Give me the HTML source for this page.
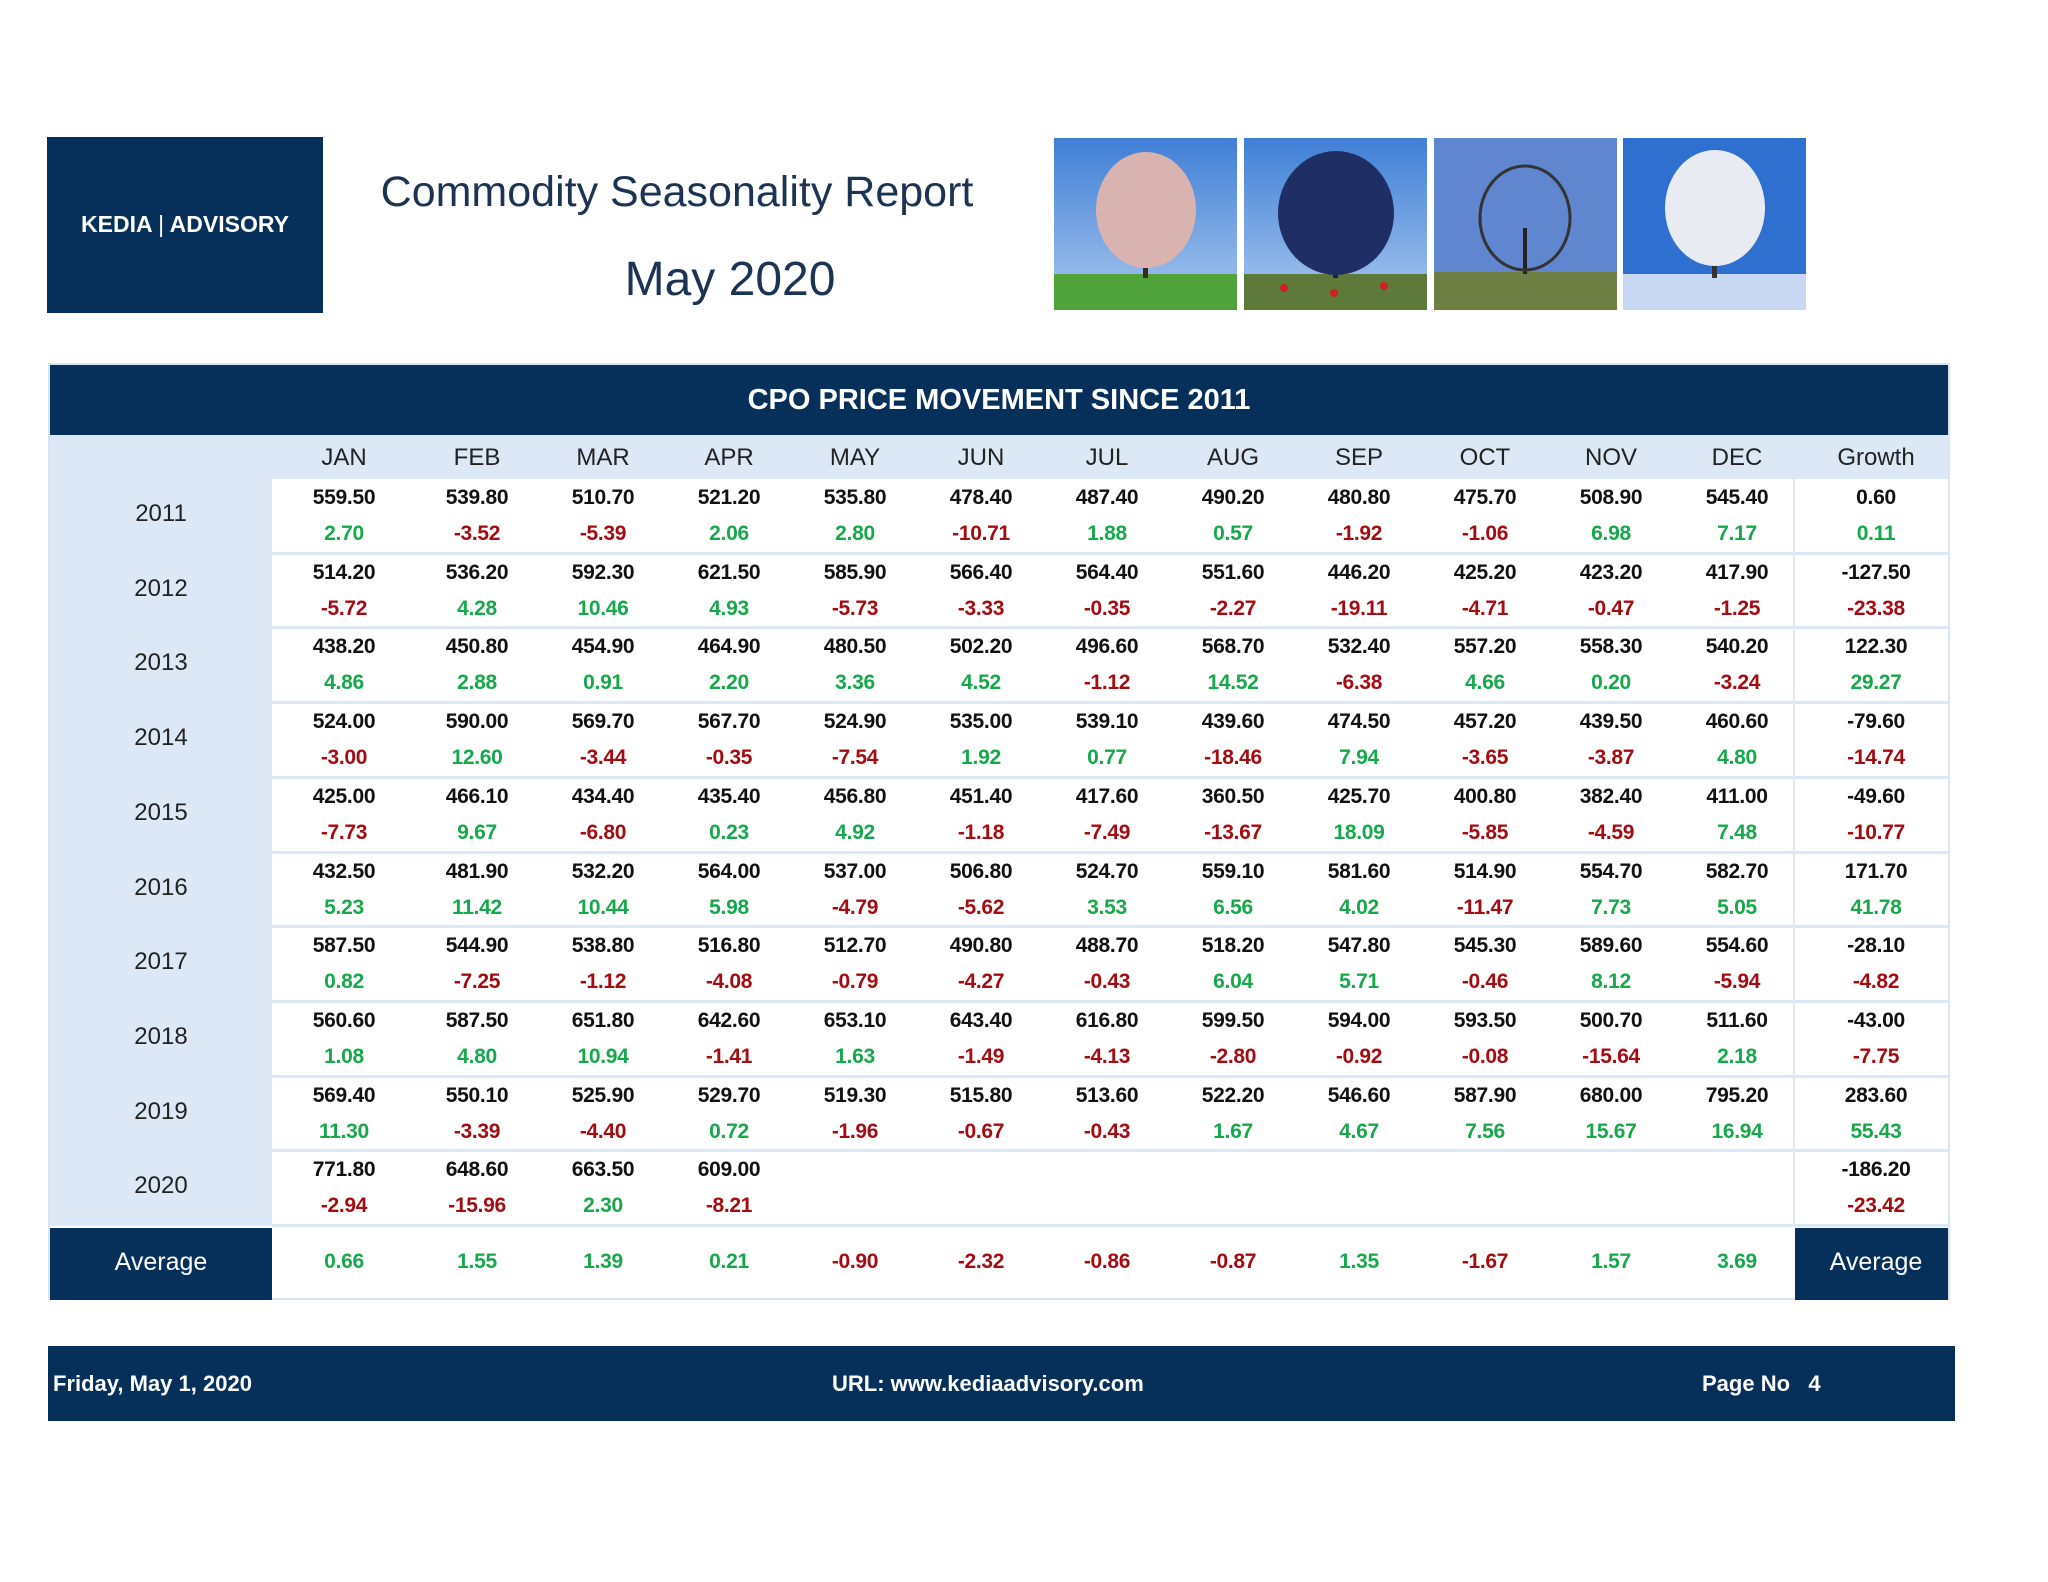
<!DOCTYPE html>
<html><head><meta charset="utf-8">
<style>
html,body{margin:0;padding:0;background:#fff;}
body{width:2048px;height:1582px;position:relative;overflow:hidden;font-family:"Liberation Sans",sans-serif;}
.abs{position:absolute;}
.navy{background:#06305a;}
.c{position:absolute;text-align:center;transform:translateX(-50%);white-space:nowrap;}
.num{font-weight:bold;font-size:21px;letter-spacing:-0.3px;}
.g{color:#17a84b;}
.r{color:#a30d12;}
.k{color:#111;}
</style></head>
<body>
<div class="abs navy" style="left:47px;top:137px;width:276px;height:176px;">
  <div class="abs" style="left:0;width:276px;top:74px;text-align:center;color:#fff;font-weight:bold;font-size:23px;">KEDIA <span style="font-weight:normal;">|</span> ADVISORY</div>
</div>
<div class="c" style="left:677px;top:168px;font-size:43px;color:#1c3354;">Commodity Seasonality Report</div>
<div class="c" style="left:730px;top:252px;font-size:48px;color:#1c3354;">May 2020</div>

<svg class="abs" style="left:1054px;top:138px;" width="752" height="172">
  <defs>
    <linearGradient id="sky" x1="0" y1="0" x2="0" y2="1"><stop offset="0" stop-color="#3f7fd6"/><stop offset="1" stop-color="#a9c8ee"/></linearGradient>
  </defs>
  <g>
    <rect x="0" y="0" width="183" height="172" fill="url(#sky)"/>
    <rect x="0" y="136" width="183" height="36" fill="#4fa33a"/>
    <rect x="89" y="95" width="5" height="45" fill="#3a2a20"/>
    <ellipse cx="92" cy="72" rx="50" ry="58" fill="#d9b3b0"/>
  </g>
  <g transform="translate(190,0)">
    <rect x="0" y="0" width="183" height="172" fill="url(#sky)"/>
    <rect x="0" y="136" width="183" height="36" fill="#5d7a3a"/>
    <circle cx="40" cy="150" r="4" fill="#d02020"/><circle cx="90" cy="155" r="4" fill="#d02020"/><circle cx="140" cy="148" r="4" fill="#d02020"/>
    <rect x="89" y="100" width="5" height="40" fill="#1a2340"/>
    <ellipse cx="92" cy="75" rx="58" ry="62" fill="#1f2f66"/>
  </g>
  <g transform="translate(380,0)">
    <rect x="0" y="0" width="183" height="172" fill="#5f86cf"/>
    <rect x="0" y="134" width="183" height="38" fill="#6e7f44"/>
    <rect x="89" y="90" width="4" height="46" fill="#222"/>
    <ellipse cx="91" cy="80" rx="45" ry="52" fill="none" stroke="#333" stroke-width="3"/>
  </g>
  <g transform="translate(569,0)">
    <rect x="0" y="0" width="183" height="172" fill="#2f6fd0"/>
    <rect x="0" y="136" width="183" height="36" fill="#c8d8f2"/>
    <rect x="89" y="95" width="5" height="45" fill="#333"/>
    <ellipse cx="92" cy="70" rx="50" ry="58" fill="#e8ecf2"/>
  </g>
</svg>

<div id="table" class="abs" style="left:48px;top:363px;width:1902px;height:937px;border:2px solid #d6e4f3;box-sizing:border-box;background:#fff;"></div>

<div class="abs navy" style="left:48px;top:1346px;width:1907px;height:75px;">
  <div class="abs" style="left:5px;top:25px;color:#fff;font-weight:bold;font-size:22px;">Friday, May 1, 2020</div>
  <div class="abs" style="left:784px;top:25px;color:#fff;font-weight:bold;font-size:22px;">URL: www.kediaadvisory.com</div>
  <div class="abs" style="left:1654px;top:25px;color:#fff;font-weight:bold;font-size:22px;white-space:pre;">Page No   4</div>
</div>

<script>
const months = ["JAN","FEB","MAR","APR","MAY","JUN","JUL","AUG","SEP","OCT","NOV","DEC"];
const years = ["2011","2012","2013","2014","2015","2016","2017","2018","2019","2020"];
const prices = [
 ["559.50","539.80","510.70","521.20","535.80","478.40","487.40","490.20","480.80","475.70","508.90","545.40"],
 ["514.20","536.20","592.30","621.50","585.90","566.40","564.40","551.60","446.20","425.20","423.20","417.90"],
 ["438.20","450.80","454.90","464.90","480.50","502.20","496.60","568.70","532.40","557.20","558.30","540.20"],
 ["524.00","590.00","569.70","567.70","524.90","535.00","539.10","439.60","474.50","457.20","439.50","460.60"],
 ["425.00","466.10","434.40","435.40","456.80","451.40","417.60","360.50","425.70","400.80","382.40","411.00"],
 ["432.50","481.90","532.20","564.00","537.00","506.80","524.70","559.10","581.60","514.90","554.70","582.70"],
 ["587.50","544.90","538.80","516.80","512.70","490.80","488.70","518.20","547.80","545.30","589.60","554.60"],
 ["560.60","587.50","651.80","642.60","653.10","643.40","616.80","599.50","594.00","593.50","500.70","511.60"],
 ["569.40","550.10","525.90","529.70","519.30","515.80","513.60","522.20","546.60","587.90","680.00","795.20"],
 ["771.80","648.60","663.50","609.00"]
];
const changes = [
 ["2.70","-3.52","-5.39","2.06","2.80","-10.71","1.88","0.57","-1.92","-1.06","6.98","7.17"],
 ["-5.72","4.28","10.46","4.93","-5.73","-3.33","-0.35","-2.27","-19.11","-4.71","-0.47","-1.25"],
 ["4.86","2.88","0.91","2.20","3.36","4.52","-1.12","14.52","-6.38","4.66","0.20","-3.24"],
 ["-3.00","12.60","-3.44","-0.35","-7.54","1.92","0.77","-18.46","7.94","-3.65","-3.87","4.80"],
 ["-7.73","9.67","-6.80","0.23","4.92","-1.18","-7.49","-13.67","18.09","-5.85","-4.59","7.48"],
 ["5.23","11.42","10.44","5.98","-4.79","-5.62","3.53","6.56","4.02","-11.47","7.73","5.05"],
 ["0.82","-7.25","-1.12","-4.08","-0.79","-4.27","-0.43","6.04","5.71","-0.46","8.12","-5.94"],
 ["1.08","4.80","10.94","-1.41","1.63","-1.49","-4.13","-2.80","-0.92","-0.08","-15.64","2.18"],
 ["11.30","-3.39","-4.40","0.72","-1.96","-0.67","-0.43","1.67","4.67","7.56","15.67","16.94"],
 ["-2.94","-15.96","2.30","-8.21"]
];
const growthValues = ["0.60","-127.50","122.30","-79.60","-49.60","171.70","-28.10","-43.00","283.60","-186.20"];
const growthPct = ["0.11","-23.38","29.27","-14.74","-10.77","41.78","-4.82","-7.75","55.43","-23.42"];
const averages = ["0.66","1.55","1.39","0.21","-0.90","-2.32","-0.86","-0.87","1.35","-1.67","1.57","3.69"];

const T = document.getElementById('table');
function colX(i){ return i===0 ? 294 : 427 + (i-1)*126; }
const growthX = 1826;
const rowTop0 = 114, rowH = 74.7;
function rowY(r){ return rowTop0 + r*rowH; }
function box(x,y,w,h,bg,name){
  const d=document.createElement('div');
  d.className='abs';
  d.style.cssText=`left:${x}px;top:${y}px;width:${w}px;height:${h}px;background:${bg};`;
  
  
  T.appendChild(d); return d;
}
function txt(x,y,s,cls,name,extra){
  const d=document.createElement('div');
  d.className='c '+cls;
  d.style.cssText=`left:${x}px;top:${y}px;`+(extra||'');
  d.textContent=s;
  
  
  T.appendChild(d); return d;
}
function sc(v){ return parseFloat(v)<0?'r':'g'; }

box(0,0,1898,70,'#06305a','table-title-bar');
txt(949,19,'CPO PRICE MOVEMENT SINCE 2011','','table-title','color:#fff;font-weight:bold;font-size:29px;');
box(0,70,1898,44,'#dce8f5','month-header-row');
box(0,114,222,rowH*10,'#dce8f5','year-column');
months.forEach((m,i)=>txt(colX(i),79,m,'','month-label-'+m.toLowerCase(),'font-size:24px;color:#222;'));
txt(growthX,79,'Growth','','growth-label','font-size:24px;color:#222;');
box(1743,114,2,rowH*10,'#dce8f5','growth-separator');

years.forEach((y,r)=>{
  const top=rowY(r);
  box(222,top+rowH-2,1676,3,'#dce8f5','row-divider-'+y);
  txt(111,top+21,y,'','year-label-'+y,'font-size:24px;color:#222;');
  prices[r].forEach((v,i)=>txt(colX(i),top+7,v,'num k','price-'+y+'-'+months[i].toLowerCase()));
  changes[r].forEach((v,i)=>txt(colX(i),top+43,v,'num '+sc(v),'change-'+y+'-'+months[i].toLowerCase()));
  txt(growthX,top+7,growthValues[r],'num k','growth-value-'+y);
  txt(growthX,top+43,growthPct[r],'num '+sc(growthPct[r]),'growth-pct-'+y);
});
const avTop=rowY(10)+2;
box(0,avTop,222,72,'#06305a','average-label-cell');
txt(111,avTop+20,'Average','','average-label','font-size:25px;color:#fff;');
box(1745,avTop,153,72,'#06305a','average-label-cell-right');
txt(1826,avTop+20,'Average','','average-label-right','font-size:25px;color:#fff;');
averages.forEach((v,i)=>txt(colX(i),avTop+22,v,'num '+sc(v),'average-'+months[i].toLowerCase()));
</script>
</body></html>
